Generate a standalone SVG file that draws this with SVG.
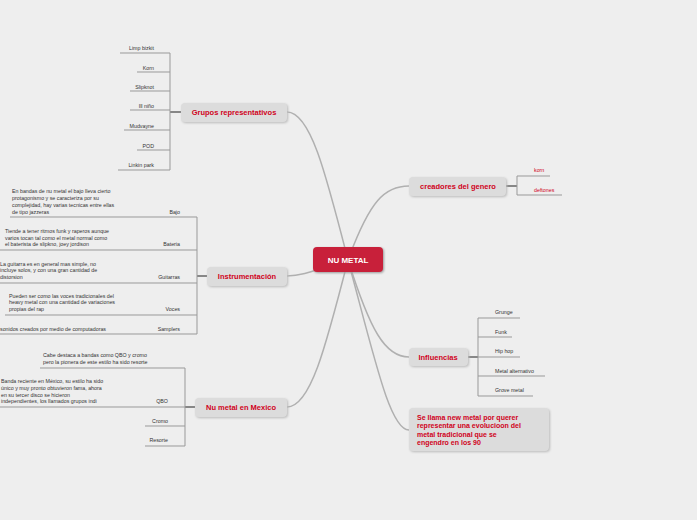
<svg xmlns="http://www.w3.org/2000/svg" width="697" height="520" viewBox="0 0 697 520">
<style>
.n{fill:#dcdcdc;filter:drop-shadow(1px 1px 1px #bbb)}
.t{font-family:"Liberation Sans",Arial,sans-serif;font-size:7.5px;font-weight:bold;fill:#d0021b;text-anchor:middle}
.s{font-family:"Liberation Sans",Arial,sans-serif;font-size:5.3px;fill:#333}
.r{text-anchor:end}
.c{fill:none;stroke:#b0b0b0;stroke-width:1.5}
.l{fill:none;stroke:#999;stroke-width:1}
.k{fill:none;stroke:#666;stroke-width:1.5}
</style>
<rect width="697" height="520" fill="#eeeeee"/>
<g id="connectors">
<path class="c" d="M348,260 C325,170 310,112 287,112"/>
<path class="c" d="M348,260 C320,268 305,276 287,276"/>
<path class="c" d="M348,260 C325,350 310,407 287,407"/>
<path class="c" d="M348,260 C370,200 385,186 409,186"/>
<path class="c" d="M348,260 C370,330 385,357 409,357"/>
<path class="c" d="M348,260 C375,360 390,430 409,430"/>
<path class="k" d="M170,112H181M197,276H207M185,407H195M506,186H517M468,357H478"/>
<path class="l" d="M170,53V170M120,53H170M137,72H170M130,91H170M130,110H170M124,130H170M137,150H170M118,170H170"/>
<path class="l" d="M197,217V334M10,217H197M0,250H197M0,283H197M5,315H197M0,334H197"/>
<path class="l" d="M185,368V446M40,368H185M0,407H185M145,426H185M145,446H185"/>
<path class="l" d="M517,176V195M517,176H550M517,195H562"/>
<path class="l" d="M478,318V396M478,318H520M478,337H512M478,357H520M478,376H545M478,396H533"/>
</g>
<g id="center"><rect x="313" y="247" width="70" height="25" rx="4" fill="#c8203a" style="filter:drop-shadow(1px 1px 1px #999)"/><text x="348" y="263" class="t" style="fill:#fff;font-size:8px">NU METAL</text></g>
<g id="grupos"><rect class="n" x="181" y="103" width="106" height="19" rx="4"/><text class="t" x="234" y="115">Grupos representativos</text>
<text class="s r" x="154" y="50">Limp bizkit</text><text class="s r" x="154" y="70">Korn</text><text class="s r" x="154" y="89">Slipknot</text><text class="s r" x="154" y="108">Ill niño</text><text class="s r" x="154" y="128">Mudvayne</text><text class="s r" x="154" y="148">POD</text><text class="s r" x="154" y="167">Linkin park</text></g>
<g id="instr"><rect class="n" x="207" y="267" width="80" height="19" rx="4"/><text class="t" x="247" y="279">Instrumentación</text>
<text class="s"><tspan x="12" y="193">En bandas de nu metal el bajo lleva cierto</tspan><tspan x="12" y="200">protagonismo y se caracteriza por su</tspan><tspan x="12" y="207">complejidad, hay varias tecnicas entre ellas</tspan><tspan x="12" y="214">de tipo jazzeras</tspan></text><text class="s r" x="180" y="214">Bajo</text>
<text class="s"><tspan x="5" y="233">Tiende a tener ritmos funk y raperos aunque</tspan><tspan x="5" y="240">varios tocan tal como el metal normal como</tspan><tspan x="5" y="246">el baterista de slipkno, joey jordison</tspan></text><text class="s r" x="180" y="246">Bateria</text>
<text class="s"><tspan x="0" y="266">La guitarra es en general mas simple, no</tspan><tspan x="0" y="272">incluye solos, y con una gran cantidad de</tspan><tspan x="0" y="279">distorsion</tspan></text><text class="s r" x="180" y="279">Guitarras</text>
<text class="s"><tspan x="9" y="298">Pueden ser como las voces tradicionales del</tspan><tspan x="9" y="304">heavy metal con una cantidad de variaciones</tspan><tspan x="9" y="311">propias del rap</tspan></text><text class="s r" x="180" y="311">Voces</text>
<text class="s" x="0" y="331">sonidos creados por medio de computadoras</text><text class="s r" x="180" y="331">Samplers</text></g>
<g id="mexico"><rect class="n" x="195" y="398" width="92" height="19" rx="4"/><text class="t" x="241" y="410">Nu metal en Mexico</text>
<text class="s"><tspan x="43" y="357">Cabe destaca a bandas como QBO y cromo</tspan><tspan x="43" y="364">pero la pionera de este estilo ha sido resorte</tspan></text>
<text class="s"><tspan x="1" y="383">Banda reciente en México, su estilo ha sido</tspan><tspan x="1" y="390">único y  muy pronto obtuvieron fama, ahora</tspan><tspan x="1" y="397">en su tercer disco se hicieron</tspan><tspan x="1" y="403">independientes, los llamados grupos indi</tspan></text><text class="s r" x="168" y="403">QBO</text>
<text class="s r" x="168" y="423">Cromo</text><text class="s r" x="168" y="442">Resorte</text></g>
<g id="creadores"><rect class="n" x="409" y="177" width="97" height="19" rx="4"/><text class="t" x="458" y="189">creadores del genero</text>
<text class="s" x="534" y="172" style="fill:#d0021b">korn</text><text class="s" x="534" y="192" style="fill:#d0021b">deftones</text></g>
<g id="influencias"><rect class="n" x="409" y="348" width="59" height="18" rx="4"/><text class="t" x="438" y="360">Influencias</text>
<text class="s" x="495" y="314">Grunge</text><text class="s" x="495" y="334">Funk</text><text class="s" x="495" y="353">Hip hop</text><text class="s" x="495" y="373">Metal alternativo</text><text class="s" x="495" y="392">Grove metal</text></g>
<g id="nota"><rect class="n" x="409" y="408" width="140" height="43" rx="4"/><text class="t" style="text-anchor:start;font-size:7px"><tspan x="417" y="420">Se llama new metal por querer</tspan><tspan x="417" y="428">representar una evolucioon del</tspan><tspan x="417" y="437">metal tradicional que se</tspan><tspan x="417" y="445">engendro en los 90</tspan></text></g>
</svg>
